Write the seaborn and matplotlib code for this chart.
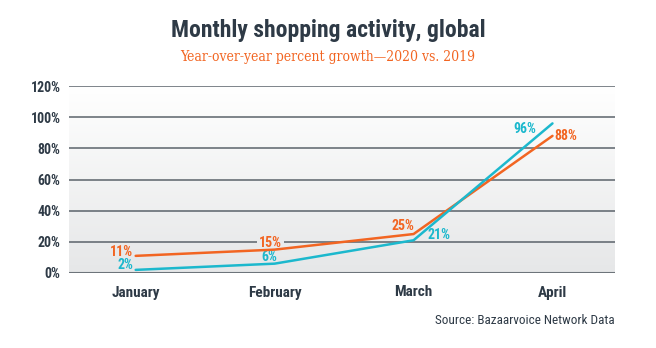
import numpy as np
import pandas as pd
import matplotlib
matplotlib.use("Agg")
import matplotlib.pyplot as plt
import seaborn as sns

months = ["January", "February", "March", "April"]
orange_values = [11, 15, 25, 88]
teal_values = [2, 6, 21, 96]
y_ticks = [0, 20, 40, 60, 80, 100, 120]
y_tick_labels = ["0%", "20%", "40%", "60%", "80%", "100%", "120%"]

ORANGE = "#f26522"
TEAL = "#1cb8cd"
DARK = "#2e3a46"

sns.set_theme(style="white")
SANS = ["Roboto Condensed", "Liberation Sans Narrow", "Roboto", "DejaVu Sans"]
plt.rcParams["font.family"] = SANS

df = pd.DataFrame({
    "month": months * 2,
    "pos": list(range(len(months))) * 2,
    "value": orange_values + teal_values,
    "series": ["orange"] * len(months) + ["teal"] * len(months),
})

fig = plt.figure(figsize=(6.56, 3.48), dpi=100)
ax = fig.add_axes([69 / 656, 75 / 348, 546 / 656, 187 / 348])

# soft vertical gradient behind the plot
grad = np.linspace(1, 0, 256).reshape(-1, 1)
cmap = matplotlib.colors.LinearSegmentedColormap.from_list("bg", ["#e6e7e8", "#ffffff"])
ax.imshow(grad, aspect="auto", cmap=cmap, extent=(-0.48, 3.45, 0, 120),
          origin="upper", zorder=0)

for yv in y_ticks:
    ax.axhline(yv, color="#5b636b" if yv else "#6d747a", lw=1.1 if yv else 1.5, zorder=1)

sns.lineplot(data=df, x="pos", y="value", hue="series",
             palette={"orange": ORANGE, "teal": TEAL}, lw=1.8,
             legend=False, ax=ax, zorder=3)

ax.set_xlim(-0.48, 3.45)
ax.set_ylim(0, 120)
ax.set_yticks(y_ticks)
ax.set_yticklabels(y_tick_labels, fontsize=10, fontweight="bold", color=DARK)
ax.set_xticks(range(len(months)))
ax.set_xticklabels(months, fontsize=11, fontweight="bold", color=DARK)
ax.tick_params(axis="x", length=0, pad=9)
ax.tick_params(axis="y", length=0, pad=6)
ax.set_xlabel("")
ax.set_ylabel("")
for s in ax.spines.values():
    s.set_visible(False)

# value labels: (dx, dy) in points, alignment, knock-out box over gridline
offsets_orange = [(-2, 3, "right", "center", False), (-3, 5, "center", "center", True),
                  (-8, 6, "center", "center", False), (1.5, 0, "left", "center", False)]
offsets_teal = [(-2, 3.5, "right", "center", False), (-4, 5, "center", "center", False),
                (10, 4, "left", "center", False), (-12, -4, "right", "center", False)]
for vals, offs, col in ((orange_values, offsets_orange, ORANGE),
                        (teal_values, offsets_teal, TEAL)):
    for i, v in enumerate(vals):
        dx, dy, ha, va, knock = offs[i]
        box = dict(boxstyle="square,pad=0.12", fc="#eaebec", ec="none") if knock else None
        ax.annotate(f"{v}%", (i, v), xytext=(dx, dy), textcoords="offset points",
                    ha=ha, va=va, color=col, fontsize=10, fontweight="bold",
                    zorder=2.5, bbox=box)

fig.text(0.5, 1 - 31 / 348, "Monthly shopping activity, global", ha="center", va="center",
         fontsize=17, fontweight="bold", color=DARK)
fig.text(0.5, 1 - 57 / 348, "Year-over-year percent growth\u20142020 vs. 2019", ha="center",
         va="center", fontsize=10, color=ORANGE, fontstretch="condensed",
         family=["DejaVu Serif Condensed", "DejaVu Serif"])
fig.text(615 / 656, 1 - 321 / 348, "Source: Bazaarvoice Network Data", ha="right",
         va="center", fontsize=9.5, color=DARK)

fig.savefig("out.png", dpi=100, facecolor="white")
